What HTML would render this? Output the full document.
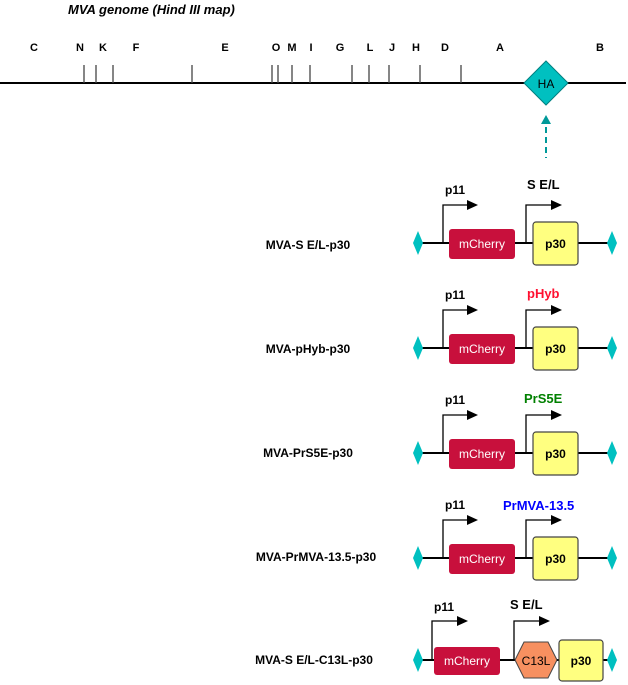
<!DOCTYPE html>
<html><head><meta charset="utf-8"><style>
html,body{margin:0;padding:0;background:#fff}
svg{display:block}
text{font-family:"Liberation Sans",Arial,sans-serif}
.b{font-weight:bold}
</style></head><body>
<svg width="628" height="685" viewBox="0 0 628 685" xmlns="http://www.w3.org/2000/svg">
<defs>
<marker id="ah" markerWidth="12" markerHeight="12" refX="9" refY="5" orient="auto" markerUnits="userSpaceOnUse"><path d="M0,0 L11,5 L0,10 Z" fill="#000"/></marker>
</defs>
<text class="b" x="68" y="14" font-size="13" font-style="italic">MVA genome (Hind III map)</text>
<g class="b" font-size="11" text-anchor="middle">
<text x="34" y="51">C</text><text x="80" y="51">N</text><text x="103" y="51">K</text><text x="136" y="51">F</text>
<text x="225" y="51">E</text><text x="276" y="51">O</text><text x="292" y="51">M</text><text x="311" y="51">I</text>
<text x="340" y="51">G</text><text x="370" y="51">L</text><text x="392" y="51">J</text><text x="416" y="51">H</text>
<text x="445" y="51">D</text><text x="500" y="51">A</text><text x="600" y="51">B</text>
</g>
<line x1="0" y1="83" x2="626" y2="83" stroke="#000" stroke-width="2"/>
<g stroke="#444" stroke-width="1.3">
<line x1="84" y1="65" x2="84" y2="83"/><line x1="96" y1="65" x2="96" y2="83"/><line x1="113" y1="65" x2="113" y2="83"/>
<line x1="192" y1="65" x2="192" y2="83"/><line x1="272" y1="65" x2="272" y2="83"/><line x1="278" y1="65" x2="278" y2="83"/>
<line x1="292" y1="65" x2="292" y2="83"/><line x1="310" y1="65" x2="310" y2="83"/><line x1="352" y1="65" x2="352" y2="83"/>
<line x1="369" y1="65" x2="369" y2="83"/><line x1="389" y1="65" x2="389" y2="83"/><line x1="420" y1="65" x2="420" y2="83"/>
<line x1="461" y1="65" x2="461" y2="83"/>
</g>
<polygon points="546,61 568,83 546,105 524,83" fill="#00c0c0" stroke="#008080" stroke-width="1"/>
<text x="546" y="88" font-size="12" text-anchor="middle">HA</text>
<polygon points="546,115 551,124 541,124" fill="#009999"/>
<line x1="546" y1="127" x2="546" y2="158" stroke="#009999" stroke-width="2" stroke-dasharray="6,4"/>

<g class="b" font-size="12" text-anchor="middle">
<text x="308" y="249">MVA-S E/L-p30</text>
<text x="308" y="353">MVA-pHyb-p30</text>
<text x="308" y="457">MVA-PrS5E-p30</text>
<text x="316" y="561">MVA-PrMVA-13.5-p30</text>
<text x="314" y="664">MVA-S E/L-C13L-p30</text>
</g>

<g id="row1">
<line x1="418" y1="243" x2="612" y2="243" stroke="#000" stroke-width="2"/>
<polygon points="418,231 423,243 418,255 413,243" fill="#00c0c0"/>
<polygon points="612,231 617,243 612,255 607,243" fill="#00c0c0"/>
<polyline points="443,243 443,205 476,205" fill="none" stroke="#000" stroke-width="1.3" marker-end="url(#ah)"/>
<polyline points="526,243 526,205 560,205" fill="none" stroke="#000" stroke-width="1.3" marker-end="url(#ah)"/>
<rect x="449" y="229" width="66" height="30" rx="3" fill="#c8103c"/>
<text x="482" y="248" font-size="12" fill="#fff" text-anchor="middle">mCherry</text>
<rect x="533" y="222" width="45" height="43" rx="3" fill="#ffff80" stroke="#444" stroke-width="1.2"/>
<text class="b" x="555.5" y="248" font-size="12" text-anchor="middle">p30</text>
<text class="b" x="445" y="194" font-size="12">p11</text>
</g>
<text class="b" x="527" y="189" font-size="13">S E/L</text>
<use href="#row1" y="105"/>
<use href="#row1" y="210"/>
<use href="#row1" y="315"/>
<text class="b" x="527" y="298" font-size="13" fill="#ff1030">pHyb</text>
<text class="b" x="524" y="403" font-size="13" fill="#008000">PrS5E</text>
<text class="b" x="503" y="510" font-size="13" fill="#0000ff">PrMVA-13.5</text>

<line x1="418" y1="660" x2="612" y2="660" stroke="#000" stroke-width="2"/>
<polygon points="418,648 423,660 418,672 413,660" fill="#00c0c0"/>
<polygon points="612,648 617,660 612,672 607,660" fill="#00c0c0"/>
<polyline points="432,660 432,621 466,621" fill="none" stroke="#000" stroke-width="1.3" marker-end="url(#ah)"/>
<polyline points="514,660 514,621 548,621" fill="none" stroke="#000" stroke-width="1.3" marker-end="url(#ah)"/>
<rect x="434" y="647" width="66" height="28" rx="3" fill="#c8103c"/>
<text x="467" y="665" font-size="12" fill="#fff" text-anchor="middle">mCherry</text>
<polygon points="515,660 524,642 548,642 557,660 548,678 524,678" fill="#f79060" stroke="#444" stroke-width="1"/>
<text x="536" y="665" font-size="12" text-anchor="middle">C13L</text>
<rect x="559" y="640" width="44" height="41" rx="3" fill="#ffff80" stroke="#444" stroke-width="1.2"/>
<text class="b" x="581" y="665" font-size="12" text-anchor="middle">p30</text>
<text class="b" x="434" y="611" font-size="12">p11</text>
<text class="b" x="510" y="609" font-size="13">S E/L</text>
</svg>
</body></html>
